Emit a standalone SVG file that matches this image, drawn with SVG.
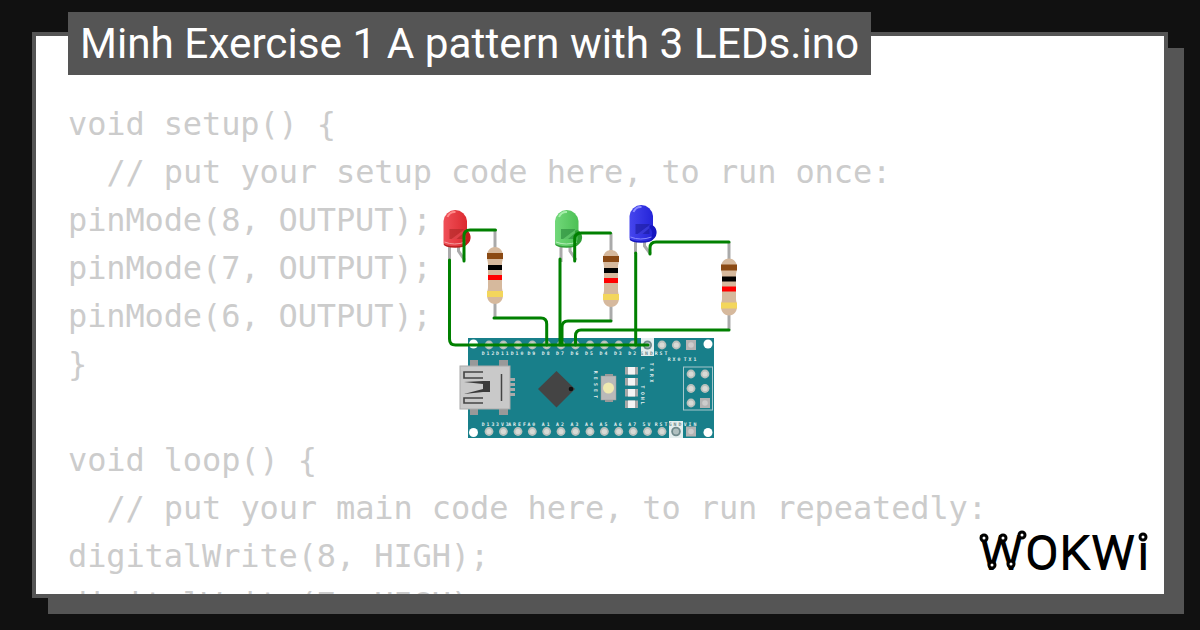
<svg xmlns="http://www.w3.org/2000/svg" width="1200" height="630" viewBox="0 0 1200 630">
<style>
.code{font:32px "DejaVu Sans Mono",monospace;fill:#ccc;letter-spacing:-0.125px}
.title{font:42.3px Roboto,"Liberation Sans",sans-serif;fill:#fff}
.w{fill:none;stroke:#008000;stroke-width:3;stroke-linecap:round;stroke-linejoin:round}
.lead{fill:none;stroke:#aaa;stroke-width:3}
.lab{font:bold 4.8px "DejaVu Sans Mono",monospace;fill:#e6f0f0;letter-spacing:2px;text-anchor:middle}
.pin{fill:#b9c0bc}
.pinc{fill:#d8dad6}
.hole{fill:#fff}
.usb{fill:none;stroke:#444;stroke-width:1.6}
.smd{fill:#a8a8a8}
.smdc{fill:#f4f4f4}
</style>
<defs>
<clipPath id="pg"><rect x="36" y="36" width="1128" height="558"/></clipPath>
<linearGradient id="gr" x1="0" x2="1" y1="0" y2="0"><stop offset="0" stop-color="#f05058"/><stop offset="1" stop-color="#dc2a30"/></linearGradient>
<linearGradient id="gg" x1="0" x2="1" y1="0" y2="0"><stop offset="0" stop-color="#72d87a"/><stop offset="1" stop-color="#4cc055"/></linearGradient>
<linearGradient id="gb" x1="0" x2="1" y1="0" y2="0"><stop offset="0" stop-color="#4646ee"/><stop offset="1" stop-color="#2424d8"/></linearGradient>
<g id="pinT"><circle r="4.4" class="pin"/><circle r="2.6" class="pinc"/></g>
<g id="res">
<path d="M-8,9 C-8,3 -4,0 0,0 C4,0 8,3 8,9 C8,13 7,14 7,17 V40 C7,43 8,44 8,48 C8,54 4,57 0,57 C-4,57 -8,54 -8,48 C-8,44 -7,43 -7,40 V17 C-7,14 -8,13 -8,9Z" fill="#d6b99d"/>
<rect x="-8" y="6" width="16" height="6" fill="#8b4a14"/>
<rect x="-7" y="18" width="14" height="5" fill="#000"/>
<rect x="-7" y="28" width="14" height="5" fill="#f00"/>
<rect x="-8" y="44" width="16" height="6" fill="#f3d65c"/>
</g>
<path id="dome" d="M0,34 V12 A11.800,12 0 0 1 23.500,12 V34 A11.800,3.500 0 0 1 0,34Z"/>
</defs>
<rect width="1200" height="630" fill="#111"/>
<rect x="48" y="48" width="1136" height="566" fill="#555"/>
<rect x="32" y="32" width="1136" height="566" fill="#555"/>
<rect x="36" y="36" width="1128" height="558" fill="#fff"/>
<g id="code" clip-path="url(#pg)" class="code">
<text x="68" y="135">void setup() {</text>
<text x="106.400" y="183">// put your setup code here, to run once:</text>
<text x="68" y="231">pinMode(8, OUTPUT);</text>
<text x="68" y="279">pinMode(7, OUTPUT);</text>
<text x="68" y="327">pinMode(6, OUTPUT);</text>
<text x="68" y="375">}</text>
<text x="68" y="471">void loop() {</text>
<text x="106.400" y="519">// put your main code here, to run repeatedly:</text>
<text x="68" y="567">digitalWrite(8, HIGH);</text>
<text x="68" y="615">digitalWrite(7, HIGH);</text>
</g>
<g id="title"><rect x="68" y="12" width="803" height="63" fill="#555"/><text class="title" x="80" y="58">Minh Exercise 1 A pattern with 3 LEDs.ino</text></g>
<g id="logo">
<text x="980 1026 1060 1092 1138" y="569" font-family="Roboto,'Liberation Sans',sans-serif" font-size="47" font-weight="300" fill="#000" stroke="#000" stroke-width="2">WOKWi</text>
<g fill="#fff" stroke="#000" stroke-width="3"><circle cx="984" cy="538" r="3"/><circle cx="1003" cy="538" r="3"/><circle cx="1022" cy="535" r="3"/><circle cx="992" cy="565" r="3"/><circle cx="1011" cy="564" r="3"/><circle cx="1143" cy="537" r="3"/></g>
</g>
<g id="arduino-nano">
<rect x="468" y="338" width="246" height="100" fill="#187f8a"/>
<circle class="hole" cx="473.500" cy="344" r="4.500"/><circle class="hole" cx="708" cy="344" r="4.500"/><circle class="hole" cx="473.500" cy="432.500" r="4.500"/><circle class="hole" cx="708" cy="432.500" r="4.500"/>
<rect x="641" y="338" width="13" height="18" fill="#e4eeee"/>
<rect x="669" y="421" width="14" height="17" fill="#e4eeee"/>
<g id="top-pins">
<use href="#pinT" x="489" y="345"/><use href="#pinT" x="503.400" y="345"/><use href="#pinT" x="518" y="345"/><use href="#pinT" x="532.300" y="345"/><use href="#pinT" x="546.700" y="345"/><use href="#pinT" x="561" y="345"/><use href="#pinT" x="575.500" y="345"/><use href="#pinT" x="590" y="345"/><use href="#pinT" x="604.400" y="345"/><use href="#pinT" x="618.800" y="345"/><use href="#pinT" x="633.200" y="345"/>
<circle cx="647.500" cy="345" r="4.500" fill="#6f8a8c"/><circle cx="647.500" cy="345" r="2.800" fill="#b0c0c0"/>
<use href="#pinT" x="662" y="345"/><use href="#pinT" x="676.300" y="345"/>
<rect x="686" y="340" width="10" height="10" fill="#b3b3b3"/><circle cx="691" cy="345" r="2.800" fill="#ccc"/>
</g>
<g id="bottom-pins">
<use href="#pinT" x="489" y="431.500"/><use href="#pinT" x="503.400" y="431.500"/><use href="#pinT" x="518" y="431.500"/><use href="#pinT" x="532.300" y="431.500"/><use href="#pinT" x="546.700" y="431.500"/><use href="#pinT" x="561" y="431.500"/><use href="#pinT" x="575.500" y="431.500"/><use href="#pinT" x="590" y="431.500"/><use href="#pinT" x="604.400" y="431.500"/><use href="#pinT" x="618.800" y="431.500"/><use href="#pinT" x="633.200" y="431.500"/><use href="#pinT" x="647.500" y="431.500"/><use href="#pinT" x="662" y="431.500"/>
<circle cx="676" cy="431.500" r="4.800" fill="#6f8a8c"/><circle cx="676" cy="431.500" r="3" fill="#b0c0c0"/>
<rect x="686" y="426.500" width="10" height="10" fill="#b3b3b3"/><circle cx="691" cy="431.500" r="2.800" fill="#ccc"/>
</g>
<g id="labels" class="lab">
<text x="489" y="354.500">D12</text><text x="503.400" y="354.500">D11</text><text x="518" y="354.500">D10</text><text x="532.300" y="354.500">D9</text><text x="546.700" y="354.500">D8</text><text x="561" y="354.500">D7</text><text x="575.500" y="354.500">D6</text><text x="590" y="354.500">D5</text><text x="604.400" y="354.500">D4</text><text x="618.800" y="354.500">D3</text><text x="633.200" y="354.500">D2</text>
<text x="647.500" y="354.500" style="fill:#6f8a8c">GND</text><text x="662" y="354.500">RST</text><text x="675" y="360.500">RX0</text><text x="691" y="360.500">TX1</text>
<text x="489" y="426">D13</text><text x="503.400" y="426">3V3</text><text x="518" y="426">AREF</text><text x="532.300" y="426">A0</text><text x="546.700" y="426">A1</text><text x="561" y="426">A2</text><text x="575.500" y="426">A3</text><text x="590" y="426">A4</text><text x="604.400" y="426">A5</text><text x="618.800" y="426">A6</text><text x="633.200" y="426">A7</text><text x="647.500" y="426">5V</text><text x="662" y="426">RST</text><text x="676" y="426" style="fill:#6f8a8c">GND</text><text x="691" y="426">VIN</text>
<text transform="translate(594,386) rotate(90)" style="letter-spacing:3.200px">RESET</text>
<text transform="translate(641,369.500) rotate(90)">L</text><text transform="translate(641,388) rotate(90)">T</text><text transform="translate(641,397) rotate(90)">ON</text><text transform="translate(641,404) rotate(90)">L</text>
<text transform="translate(650,374) rotate(90)" style="letter-spacing:2.700px">TXRX</text>
</g>
<g id="usb">
<rect x="470" y="360" width="8" height="6" fill="#999"/><rect x="499" y="360" width="9" height="6" fill="#999"/><rect x="470" y="409" width="8" height="6" fill="#999"/><rect x="499" y="409" width="9" height="6" fill="#999"/>
<rect x="510" y="378" width="5" height="3" fill="#aaa"/><rect x="510" y="383" width="5" height="3" fill="#aaa"/><rect x="510" y="388" width="5" height="3" fill="#aaa"/><rect x="510" y="393" width="5" height="3" fill="#aaa"/>
<rect x="460" y="366" width="50" height="43" fill="#c9c9c9" stroke="#aaa" stroke-width="1"/>
<path class="usb" d="M483,372 H464 V378 H483 M483,398 H464 V403 H483"/>
<path d="M464,382 L483,381 H490 V392 H483 L464,394 L483,389 V384Z" fill="#3a3a3a"/>
<path d="M501.500,374 V401" stroke="#444" stroke-width="1.500" fill="none"/>
</g>
<g id="chip"><path d="M556.500,371 L575,389 L556.500,407.500 L538,389Z" fill="#444"/><circle cx="571" cy="389" r="2.300" fill="#111"/></g>
<g id="reset"><rect x="605" y="374" width="8" height="28" fill="#999"/><rect x="601" y="376" width="15" height="24" fill="#b9b9b9" stroke="#999" stroke-width="0.500"/><circle cx="608.500" cy="388" r="5.500" fill="#efe9b0"/></g>
<g id="smd-leds">
<rect class="smd" x="625" y="367" width="13" height="7.500"/><rect class="smdc" x="628" y="367" width="7" height="7.500"/>
<rect class="smd" x="625" y="378" width="13" height="7.500"/><rect class="smdc" x="628" y="378" width="7" height="7.500"/>
<rect class="smd" x="625" y="389" width="13" height="7.500"/><rect class="smdc" x="628" y="389" width="7" height="7.500"/>
<rect class="smd" x="625" y="400.500" width="13" height="7.500"/><rect class="smdc" x="628" y="400.500" width="7" height="7.500"/>
</g>
<g id="icsp"><rect x="683.500" y="367" width="29" height="43" fill="none" stroke="#a5c8cc" stroke-width="1"/>
<use href="#pinT" x="691" y="374"/><use href="#pinT" x="705" y="374"/><use href="#pinT" x="691" y="388.500"/><use href="#pinT" x="705" y="388.500"/><use href="#pinT" x="691" y="403"/><rect x="700" y="398" width="10" height="10" fill="#b3b3b3"/><circle cx="705" cy="403" r="2.800" fill="#ccc"/></g>
</g>
<g id="r1"><path class="lead" d="M495,230 V318"/><use href="#res" x="495" y="247"/></g>
<g id="r2"><path class="lead" d="M611,233 V321"/><use href="#res" x="611" y="250"/></g>
<g id="r3"><path class="lead" d="M729,242 V330"/><use href="#res" x="729" y="258.500"/></g>
<g id="led1" transform="translate(443.500,209)">
<path class="lead" d="M6,36 V53 M15,38 V42 L21,51"/>
<ellipse cx="11.700" cy="35" rx="11.700" ry="3.800" fill="#b81c1c"/><use href="#dome" fill="url(#gr)"/>
<path d="M17,23 A6,6 0 0 1 20,34 L23,36 Q28,32 27,27 Q26,22 22,21Z" fill="#c01c1c"/>
<path d="M1,33 Q11,37 22,33" fill="none" stroke="#f4a0a0" stroke-width="1"/>
<path d="M6,20 H20 V30 H6Z" fill="#b32a2a" opacity=".7"/><path d="M8,30 L20,21 V24 L13,30Z" fill="#f05058" opacity=".6"/><path d="M4,8 A8,8 0 0 1 12,3" stroke="#ff8a8a" stroke-width="2" fill="none"/>
</g>
<g id="led2" transform="translate(555,209)">
<path class="lead" d="M6,36 V53 M15,38 V42 L21,51"/>
<ellipse cx="11.700" cy="35" rx="11.700" ry="3.800" fill="#2f9e35"/><use href="#dome" fill="url(#gg)"/>
<path d="M17,23 A6,6 0 0 1 20,34 L23,36 Q28,32 27,27 Q26,22 22,21Z" fill="#2f9e35"/>
<path d="M1,33 Q11,37 22,33" fill="none" stroke="#b5eeb8" stroke-width="1"/>
<path d="M6,20 H20 V30 H6Z" fill="#2f9040" opacity=".7"/><path d="M8,30 L20,21 V24 L13,30Z" fill="#72d87a" opacity=".6"/><path d="M4,8 A8,8 0 0 1 12,3" stroke="#a5eeaa" stroke-width="2" fill="none"/>
</g>
<g id="led3" transform="translate(629.500,204)">
<path class="lead" d="M6,36 V50 M15,38 V42 L21,50"/>
<ellipse cx="11.700" cy="35" rx="11.700" ry="3.800" fill="#1515c0"/><use href="#dome" fill="url(#gb)"/>
<path d="M17,23 A6,6 0 0 1 20,34 L23,36 Q28,32 27,27 Q26,22 22,21Z" fill="#1515c0"/>
<path d="M1,33 Q11,37 22,33" fill="none" stroke="#8a8aff" stroke-width="1"/>
<path d="M6,20 H20 V30 H6Z" fill="#1f1fa5" opacity=".7"/><path d="M8,30 L20,21 V24 L13,30Z" fill="#4646ee" opacity=".6"/><path d="M4,8 A8,8 0 0 1 12,3" stroke="#8a8aff" stroke-width="2" fill="none"/>
</g>
<g id="connectors" class="w">
<path d="M449.500,260 V339 Q449.500,345 455.500,345 H648"/>
<path d="M464,261 V236 Q464,230 470,230 H495.500"/>
<path d="M494,318 H541 Q546.700,318 546.700,324 V345"/>
<path d="M560,259 V345"/>
<path d="M574.700,261 V239 Q574.700,233 581,233 H610.500"/>
<path d="M611,321 H568 Q562,321 562,327 V345"/>
<path d="M635.700,253 V345"/>
<path d="M650,254 V248 Q650,242 656,242 H729"/>
<path d="M729,330 H581 Q575.500,330 575.500,336 V345"/>
</g>
</svg>
